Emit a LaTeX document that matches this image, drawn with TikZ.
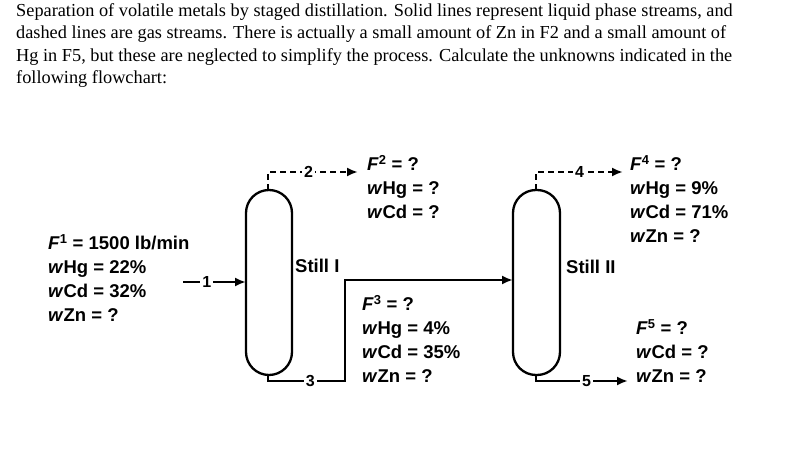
\documentclass[tikz,border=0pt]{standalone}
\usepackage{fontspec}
\setmainfont{Liberation Serif}
\newfontfamily\arial{Liberation Sans}
\usetikzlibrary{arrows.meta}
\begin{document}
\begin{tikzpicture}[x=1pt,y=-1pt,
  lbl/.style={font=\arial\fontsize{18.5}{24}\selectfont,anchor=west,inner sep=0pt,align=left},
  col/.style={draw,line width=2.3pt,rounded corners=23pt},
  liq/.style={line width=2.2pt},
  gas/.style={line width=2.2pt,dash pattern=on 6pt off 4pt},
  tip/.style={-{Latex[length=11pt,width=9pt]}},
  num/.style={font=\arial\bfseries\fontsize{16}{16}\selectfont,fill=white,inner sep=2pt}]
\useasboundingbox (0,0) rectangle (788,457);
\node[anchor=north west,inner sep=0pt,align=left,font=\fontsize{18.3}{22.5}\selectfont] (hdr) at (16,3)
 {Separation of volatile metals by staged distillation. Solid lines represent liquid phase streams, and\\dashed lines are gas streams. There is actually a small amount of Zn in F2 and a small amount of\\Hg in F5, but these are neglected to simplify the process. Calculate the unknowns indicated in the\\following flowchart:};
% columns
\draw[col] (246,190) rectangle (292,375);
\draw[col] (513,190) rectangle (560,375);
\coordinate (s1in) at (246,282);
\coordinate (s1top) at (268,190);
\coordinate (s1bot) at (268,375);
\coordinate (s2in) at (513,280);
\coordinate (s2top) at (536,190);
\coordinate (s2bot) at (536,375);
\node[lbl] (st1) at (295,266) {\textbf{Still I}};
\node[lbl] (st2) at (566,267) {\textbf{Still II}};
% stream 1
\coordinate (f1s) at (183,282);
\draw[liq,tip] (f1s) -- (s1in) node[num,pos=0.38]{1};
% stream 2
\coordinate (f2e) at (358,172);
\draw[gas,tip] (s1top) -- (268,172) -- (f2e) node[num,pos=0.45]{2};
% stream 3
\draw[liq,tip] (s1bot) -- (268,381) -- (345,381) node[num,pos=0.55]{3} -- (345,280) -- (s2in);
% stream 4
\coordinate (f4e) at (623,172);
\draw[gas,tip] (s2top) -- (536,172) -- (f4e) node[num,pos=0.5]{4};
% stream 5
\coordinate (f5e) at (628,381);
\draw[liq,tip] (s2bot) -- (536,381) -- (f5e) node[num,pos=0.55]{5};
% labels
\node[lbl,anchor=north west] (t1) at (48,234) {\textbf{\textit{F}\textsuperscript{1} = 1500 lb/min}\\\textbf{\textit{w}Hg = 22\%}\\\textbf{\textit{w}Cd = 32\%}\\\textbf{\textit{w}Zn = ?}};
\node[lbl,anchor=north west] (t2) at (367,155) {\textbf{\textit{F}\textsuperscript{2} = ?}\\\textbf{\textit{w}Hg = ?}\\\textbf{\textit{w}Cd = ?}};
\node[lbl,anchor=north west] (t3) at (362,295) {\textbf{\textit{F}\textsuperscript{3} = ?}\\\textbf{\textit{w}Hg = 4\%}\\\textbf{\textit{w}Cd = 35\%}\\\textbf{\textit{w}Zn = ?}};
\node[lbl,anchor=north west] (t4) at (630,155) {\textbf{\textit{F}\textsuperscript{4} = ?}\\\textbf{\textit{w}Hg = 9\%}\\\textbf{\textit{w}Cd = 71\%}\\\textbf{\textit{w}Zn = ?}};
\node[lbl,anchor=north west] (t5) at (636,319) {\textbf{\textit{F}\textsuperscript{5} = ?}\\\textbf{\textit{w}Cd = ?}\\\textbf{\textit{w}Zn = ?}};
\end{tikzpicture}
\end{document}
